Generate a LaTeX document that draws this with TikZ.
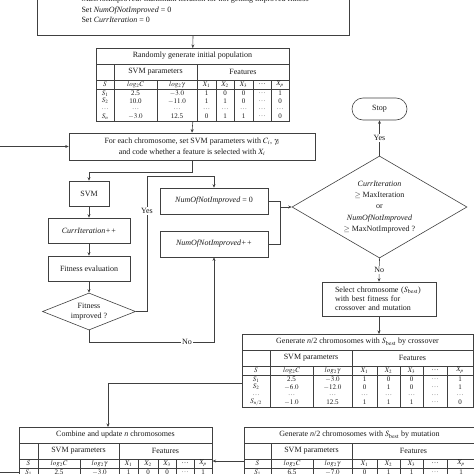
\documentclass[tikz,border=0pt]{standalone}
\usepackage{mathptmx}
\usepackage{fontspec}
\setmainfont{Liberation Serif}
\usetikzlibrary{shapes.geometric,arrows.meta,calc}
\tikzset{
 every node/.style={font=\fontsize{8}{10}\selectfont, text=black!90},
 box/.style={draw=black!75, line width=0.6pt, inner sep=0pt, align=center},
 tabbox/.style={draw=black!75, line width=0.6pt, inner sep=0pt, anchor=north west},
 tabline/.style={draw=black!75, line width=0.45pt},
 conn/.style={draw=black!75, line width=0.6pt},
 arr/.style={conn, -{Stealth[length=3.5pt,width=3pt]}},
 lbl/.style={fill=white, inner sep=1pt},
 cell/.style={inner sep=0pt, font=\fontsize{7}{7.5}\selectfont},
}
\newcommand\gadots{\textcolor{black!55}{\dots}}
\newcommand\gacols[9]{\def\ca{#1}\def\cb{#2}\def\cc{#3}\def\cd{#4}\def\ce{#5}\def\cf{#6}\def\cg{#7}\def\ch{#8}\def\ci{#9}}
\newcommand\gatab[4]{%
 \pgfmathsetmacro\tw{\ci-\ca}%
 \node[tabbox, minimum width=\tw pt, minimum height=73pt] (#1) at (\ca,#2) {};
 \draw[tabline] (\ca,#2+16) -- (\ci,#2+16);
 \draw[tabline] (\ca,#2+32) -- (\ci,#2+32);
 \draw[tabline] (\ca,#2+41) -- (\ci,#2+41);
 \draw[tabline] (\cb,#2+16) -- (\cb,#2+73);
 \draw[tabline] (\cd,#2+16) -- (\cd,#2+73);
 \foreach \xx in {\cc,\ce,\cf,\cg,\ch} {\draw[tabline] (\xx,#2+32) -- (\xx,#2+73);}
 \node (#1-title) at ({(\ca+\ci)/2},#2+8) {#3};
 \node (#1-svm) at ({(\cb+\cd)/2},#2+24) {SVM parameters};
 \node (#1-feat) at ({(\cd+\ci)/2},#2+24) {Features};
 \node[cell] (#1-h1) at ({(\ca+\cb)/2},#2+36.5) {$S$};
 \node[cell] (#1-h2) at ({(\cb+\cc)/2},#2+36.5) {$log_2C$};
 \node[cell] (#1-h3) at ({(\cc+\cd)/2},#2+36.5) {$log_2\gamma$};
 \node[cell] (#1-h4) at ({(\cd+\ce)/2},#2+36.5) {$X_1$};
 \node[cell] (#1-h5) at ({(\ce+\cf)/2},#2+36.5) {$X_2$};
 \node[cell] (#1-h6) at ({(\cf+\cg)/2},#2+36.5) {$X_3$};
 \node[cell] (#1-h7) at ({(\cg+\ch)/2},#2+36.5) {\dots};
 \node[cell] (#1-h8) at ({(\ch+\ci)/2},#2+36.5) {$X_p$};
 \foreach \s/\p/\q/\u/\v/\w/\z [count=\r] in {#4} {%
  \pgfmathsetmacro\yy{#2+45.5+(\r-1)*7.6}
  \node[cell] (#1-\r-1) at ({(\ca+\cb)/2},\yy) {\s};
  \node[cell] (#1-\r-2) at ({(\cb+\cc)/2},\yy) {\p};
  \node[cell] (#1-\r-3) at ({(\cc+\cd)/2},\yy) {\q};
  \node[cell] (#1-\r-4) at ({(\cd+\ce)/2},\yy) {\u};
  \node[cell] (#1-\r-5) at ({(\ce+\cf)/2},\yy) {\v};
  \node[cell] (#1-\r-6) at ({(\cf+\cg)/2},\yy) {\w};
  \node[cell] (#1-\r-7) at ({(\cg+\ch)/2},\yy) {\gadots};
  \node[cell] (#1-\r-8) at ({(\ch+\ci)/2},\yy) {\z};
 }%
}
\begin{document}
\begin{tikzpicture}[x=1pt,y=-1pt]
\useasboundingbox (0,0) rectangle (474,474);
% top box
\node[box, minimum width=312pt, minimum height=75pt] (init) at (193,-2.5) {};
\node[anchor=base west] (t1) at (78,1.5) {MaxNotImproved: maximum iteration for not getting improved fitness};
\node[anchor=base west] (t2) at (78,12) {Set \textit{NumOfNotImproved} = 0};
\node[anchor=base west] (t3) at (78,22.5) {Set \textit{CurrIteration} = 0};
% initial population
\gacols{96}{114}{157}{197}{216}{234}{253}{271}{289}
\gatab{pop}{48}{Randomly generate initial population}{$S_1$/2.5/$-3.0$/1/0/0/1,$S_2$/10.0/$-11.0$/1/1/0/0,\gadots/\gadots/\gadots/\gadots/\gadots/\gadots/\gadots,$S_n$/$-3.0$/12.5/0/1/1/0}
% for each
\node[box, minimum width=246pt, minimum height=27pt, font=\fontsize{8}{11}\selectfont] (each) at (192,146.5) {For each chromosome, set SVM parameters with $C_i$, $\gamma_i$\\and code whether a feature is selected with $X_i$};
\node[box, minimum width=40pt, minimum height=25pt] (svm) at (89,193.5) {SVM};
\node[box, minimum width=82pt, minimum height=25pt] (curr) at (89,230.5) {\textit{CurrIteration++}};
\node[box, minimum width=82pt, minimum height=25pt] (fit) at (89,268.5) {Fitness evaluation};
\node[box, diamond, aspect=2.5, minimum width=93pt, minimum height=37pt] (fimp) at (89,311.5) {Fitness\\improved ?};
\node[box, minimum width=108pt, minimum height=26pt] (n0) at (214,201) {\textit{NumOfNotImproved} = 0};
\node[box, minimum width=108pt, minimum height=26pt] (npp) at (214,244) {\textit{NumOfNotImproved++}};
\node[box, diamond, aspect=1.7, minimum width=175pt, minimum height=102pt, font=\fontsize{8}{11.3}\selectfont] (cond) at (379.5,207) {\textit{CurrIteration}\\$\geq$ MaxIteration\\or\\\textit{NumOfNotImproved}\\$\geq$ MaxNotImproved ?};
\node[box, rounded corners=11pt, minimum width=55pt, minimum height=22pt] (stop) at (379.5,109) {Stop};
\node[box, align=left, minimum width=114pt, minimum height=34pt, text width=88pt, font=\fontsize{8}{9.2}\selectfont] (sel) at (379,299) {Select chromosome ($S_{\mathrm{best}}$)\\with best fitness for\\crossover and mutation};
% crossover table
\gacols{242}{270}{313}{352}{377}{400}{423}{447}{473}
\gatab{cross}{334}{Generate \textit{n}/2 chromosomes with $S_{\mathrm{best}}$ by crossover}{$S_1$/2.5/$-3.0$/1/0/0/1,$S_2$/$-6.0$/$-12.0$/0/1/0/1,\gadots/\gadots/\gadots/\gadots/\gadots/\gadots/\gadots,{$S_{n/2}$}/$-1.0$/12.5/1/1/1/0}
% combine table
\gacols{19}{38}{80}{119}{138}{158}{176}{194}{212}
\gatab{comb}{427}{Combine and update \textit{n} chromosomes}{$S_1$/2.5/$-3.0$/1/0/0/1}
% mutation table
\gacols{244}{271}{313}{352}{377}{400}{423}{447}{475}
\gatab{mut}{427}{Generate \textit{n}/2 chromosomes with $S_{\mathrm{best}}$ by mutation}{$S_1$/6.5/$-7.0$/0/1/1/1}
% connectors
\draw[arr] (init.south) -- (pop.north);
\draw[arr] (pop.south) -- (each.north);
\draw[arr] (each.south) -- ++(0,12) -| (svm.north);
\draw[arr] (svm) -- (curr);
\draw[arr] (curr) -- (fit);
\draw[arr] (fit) -- (fimp);
\coordinate (ytop) at (147,176);
\draw[arr] (fimp.east) -| (ytop) -| (n0.north);
\node[lbl] (yes1) at (147,211) {Yes};
\coordinate (nbot) at (89,342);
\draw[arr] (fimp.south) -- (nbot) -| (npp.south);
\node[lbl] (no1) at (187,342) {No};
\coordinate (mj) at (280,207);
\draw[conn] (n0.east) -| (mj);
\draw[conn] (npp.east) -| (mj);
\draw[arr] (mj) -- (cond.west);
\draw[arr] (cond.north) -- (stop.south) node[midway,lbl] (yes2) {Yes};
\draw[arr] (cond.south) -- (sel.north) node[midway,lbl] (no2) {No};
\draw[arr] (sel.south) -- (sel.south |- cross.north);
\draw[arr] ($(cross.north west)+(0,49)$) -| ($(comb.north west)+(89,0)$);
\draw[arr] ($(mut.north west)+(0,34)$) -- ($(comb.north east)+(0,34)$);
\draw[arr] ($(comb.north west)+(0,45)$) -- ++(-26,0) |- (each.west);
\end{tikzpicture}
\end{document}
